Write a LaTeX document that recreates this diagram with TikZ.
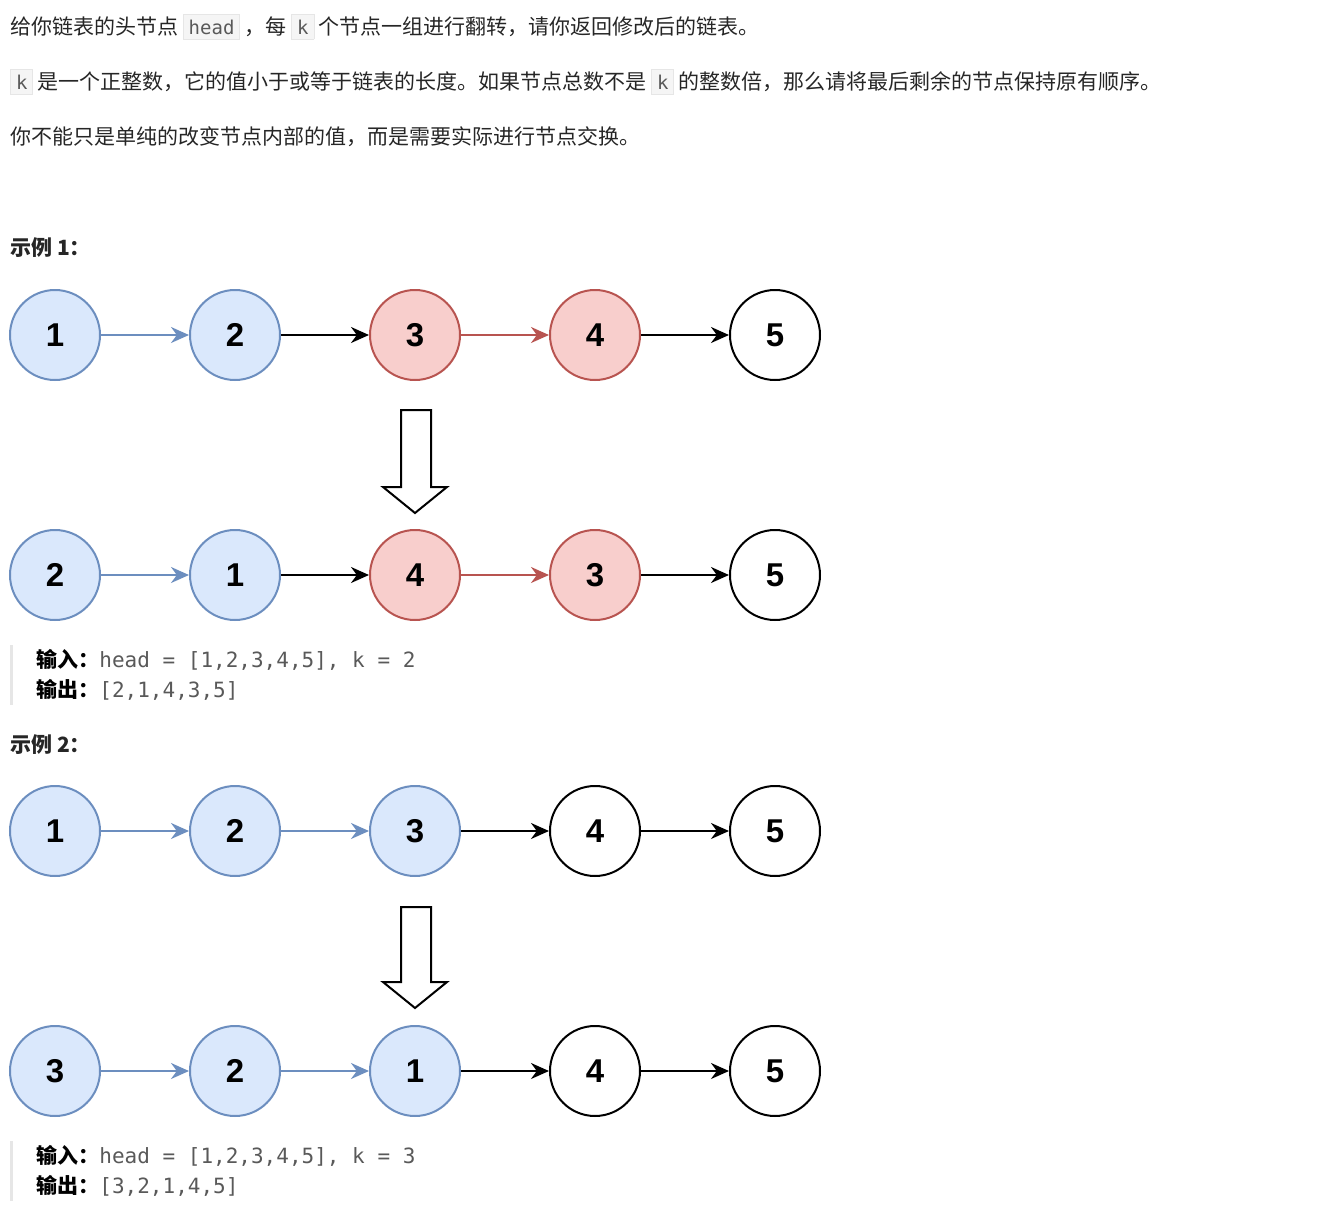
\documentclass[tikz,border=0pt]{standalone}
\usepackage{fontspec}
\setmainfont{Noto Sans CJK SC}
\setmonofont{DejaVu Sans Mono}
\newfontfamily\numfont{Liberation Sans}
\usetikzlibrary{arrows.meta}
\definecolor{bfill}{HTML}{DAE8FC}\definecolor{bdraw}{HTML}{6C8EBF}
\definecolor{rfill}{HTML}{F8CECC}\definecolor{rdraw}{HTML}{B85450}
\definecolor{codebg}{HTML}{F5F5F5}\definecolor{codebd}{HTML}{E6E6E6}
\definecolor{txt}{HTML}{262626}\definecolor{codetx}{HTML}{595959}
\newcommand{\ic}[1]{{\setlength\fboxsep{2.5pt}\setlength\fboxrule{0.3pt}\fcolorbox{codebd}{codebg}{\ttfamily\color{codetx}\fontsize{9.5pt}{10pt}\selectfont #1}}}
\tikzset{
 x=0.5pt,y=-0.5pt,
 nd/.style={circle,draw,line width=1pt,minimum size=45pt,inner sep=0pt,font=\numfont\bfseries\fontsize{16.5pt}{17pt}\selectfont},
 bn/.style={nd,fill=bfill,draw=bdraw},
 rn/.style={nd,fill=rfill,draw=rdraw},
 wn/.style={nd,fill=white,draw=black},
 ed/.style={line width=1pt,-{Stealth[length=9pt,width=8pt]}},
 be/.style={ed,draw=bdraw}, re/.style={ed,draw=rdraw}, ke/.style={ed,draw=black},
 tx/.style={anchor=west,inner sep=0pt,text=txt,font=\fontsize{10.5pt}{12pt}\selectfont},
 hd/.style={tx,font=\bfseries\fontsize{10.5pt}{12pt}\selectfont},
 cd/.style={anchor=west,inner sep=0pt,font=\fontsize{10.5pt}{12pt}\selectfont},
 bar/.style={draw=codebd,line width=1.5pt},
 bigarr/.style={draw=black,fill=white,line width=1pt}
}
\begin{document}
\begin{tikzpicture}
\useasboundingbox (0,0) rectangle (1330,1216);
\node[tx] (t1) at (10,27) {给你链表的头节点 \ic{head} ，每 \ic{k} 个节点一组进行翻转，请你返回修改后的链表。};
\node[tx] (t2) at (10,82) {\ic{k} 是一个正整数，它的值小于或等于链表的长度。如果节点总数不是 \ic{k} 的整数倍，那么请将最后剩余的节点保持原有顺序。};
\node[tx] (t3) at (10,137) {你不能只是单纯的改变节点内部的值，而是需要实际进行节点交换。};
\node[hd] (h1) at (10,248) {示例 1：};
\node[bn] (a1) at (55,335) {1};
\node[bn] (a2) at (235,335) {2};
\node[rn] (a3) at (415,335) {3};
\node[rn] (a4) at (595,335) {4};
\node[wn] (a5) at (775,335) {5};
\draw[be] (a1)--(a2); \draw[ke] (a2)--(a3); \draw[re] (a3)--(a4); \draw[ke] (a4)--(a5);
\draw[bigarr] (401,410)--(431,410)--(431,487)--(447,487)--(415,513)--(383,487)--(401,487)--cycle;
\node[bn] (b1) at (55,575) {2};
\node[bn] (b2) at (235,575) {1};
\node[rn] (b3) at (415,575) {4};
\node[rn] (b4) at (595,575) {3};
\node[wn] (b5) at (775,575) {5};
\draw[be] (b1)--(b2); \draw[ke] (b2)--(b3); \draw[re] (b3)--(b4); \draw[ke] (b4)--(b5);
\draw[bar] (11,645)--(11,705);
\node[cd] (c1) at (36,660) {\textbf{输入：}{\ttfamily\color{codetx}head = [1,2,3,4,5], k = 2}};
\node[cd] (c2) at (36,690) {\textbf{输出：}{\ttfamily\color{codetx}[2,1,4,3,5]}};
\node[hd] (h2) at (10,745) {示例 2：};
\node[bn] (d1) at (55,831) {1};
\node[bn] (d2) at (235,831) {2};
\node[bn] (d3) at (415,831) {3};
\node[wn] (d4) at (595,831) {4};
\node[wn] (d5) at (775,831) {5};
\draw[be] (d1)--(d2); \draw[be] (d2)--(d3); \draw[ke] (d3)--(d4); \draw[ke] (d4)--(d5);
\draw[bigarr] (401,907)--(431,907)--(431,982)--(447,982)--(415,1008)--(383,982)--(401,982)--cycle;
\node[bn] (e1) at (55,1071) {3};
\node[bn] (e2) at (235,1071) {2};
\node[bn] (e3) at (415,1071) {1};
\node[wn] (e4) at (595,1071) {4};
\node[wn] (e5) at (775,1071) {5};
\draw[be] (e1)--(e2); \draw[be] (e2)--(e3); \draw[ke] (e3)--(e4); \draw[ke] (e4)--(e5);
\draw[bar] (11,1141)--(11,1201);
\node[cd] (f1) at (36,1156) {\textbf{输入：}{\ttfamily\color{codetx}head = [1,2,3,4,5], k = 3}};
\node[cd] (f2) at (36,1186) {\textbf{输出：}{\ttfamily\color{codetx}[3,2,1,4,5]}};
\end{tikzpicture}
\end{document}
